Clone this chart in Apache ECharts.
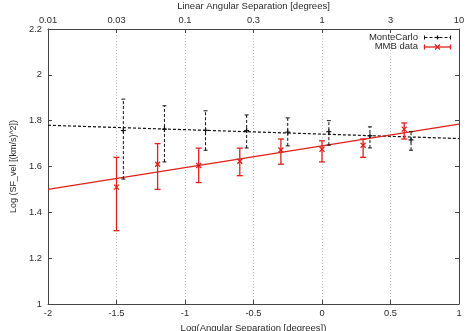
<!DOCTYPE html>
<html><head><meta charset="utf-8">
<script src="https://cdn.jsdelivr.net/npm/echarts@6/dist/echarts.min.js"></script>
<style>html,body{margin:0;padding:0;background:#fff}#c{width:474px;height:331px}</style>
</head><body><div id="c"></div>
<script>
const topTickLabels = ['0.01','0.03','0.1','0.3','1','3','10'];
const mcX    = [-1.45,-1.15,-0.85,-0.55,-0.25,0.05,0.35,0.65];
const mcY    = [1.757,1.763,1.758,1.757,1.750,1.752,1.734,1.716];
const mcLow  = [1.545,1.620,1.671,1.681,1.690,1.693,1.681,1.671];
const mcHigh = [1.894,1.865,1.843,1.825,1.812,1.800,1.773,1.752];
const mmbX    = [-1.5,-1.2,-0.9,-0.6,-0.3,0.0,0.3,0.6];
const mmbY    = [1.510,1.610,1.604,1.623,1.672,1.675,1.693,1.763];
const mmbLow  = [1.320,1.500,1.530,1.560,1.610,1.620,1.640,1.720];
const mmbHigh = [1.640,1.700,1.680,1.680,1.720,1.712,1.720,1.790];
const mcFit  = [[-2,1.780],[1,1.722]];
const mmbFit = [[-2,1.500],[1,1.785]];

const RED = '#e0201b', BLACK = '#111';
const FONT = 'Liberation Sans, Arial, sans-serif';
const txt = {color:'#2a2a2a', fontSize:9.3, fontFamily:FONT};

function errItem(color, dashed, capW, marker){
  return function(params, api){
    const p = api.coord([api.value(0), api.value(1)]);
    const lo = api.coord([api.value(0), api.value(2)]);
    const hi = api.coord([api.value(0), api.value(3)]);
    const st = {stroke:color, lineWidth: dashed?1:1.3, lineDash: dashed?[3,2]:null};
    const cs = {stroke:color, lineWidth: dashed?1:1.3};
    const ch = [
      {type:'line', shape:{x1:p[0],y1:lo[1],x2:p[0],y2:hi[1]}, style:st},
      {type:'line', shape:{x1:p[0]-capW,y1:lo[1],x2:p[0]+capW,y2:lo[1]}, style:cs},
      {type:'line', shape:{x1:p[0]-capW,y1:hi[1],x2:p[0]+capW,y2:hi[1]}, style:cs}
    ];
    const m = 2.5;
    if(marker==='x'){
      ch.push({type:'line', shape:{x1:p[0]-m,y1:p[1]-m,x2:p[0]+m,y2:p[1]+m}, style:{stroke:color,lineWidth:1.3}});
      ch.push({type:'line', shape:{x1:p[0]-m,y1:p[1]+m,x2:p[0]+m,y2:p[1]-m}, style:{stroke:color,lineWidth:1.3}});
    } else {
      ch.push({type:'line', shape:{x1:p[0]-m,y1:p[1],x2:p[0]+m,y2:p[1]}, style:{stroke:color,lineWidth:1.2}});
      ch.push({type:'line', shape:{x1:p[0],y1:p[1]-m,x2:p[0],y2:p[1]+m}, style:{stroke:color,lineWidth:1.2}});
    }
    return {type:'group', children:ch};
  };
}

const mcData = mcX.map((x,i)=>[x,mcY[i],mcLow[i],mcHigh[i]]);
const mmbData = mmbX.map((x,i)=>[x,mmbY[i],mmbLow[i],mmbHigh[i]]);

const axisLine = {show:true, onZero:false, lineStyle:{color:'#444', width:1}};
const tick = {inside:true, length:4, lineStyle:{color:'#444'}};
const option = {
  animation:false,
  backgroundColor:'#fff',
  grid:{left:48, right:15, top:29, bottom:27, containLabel:false, outerBoundsMode:'none'},
  xAxis:[
    {type:'value', position:'bottom', min:-2, max:1, interval:0.5,
     name:'Log(Angular Separation [degrees])', nameLocation:'middle', nameGap:18,
     nameTextStyle:{...txt, fontSize:9.5},
     axisLine:axisLine, axisTick:tick,
     axisLabel:{...txt, margin:5, formatter:v=>String(+v.toFixed(1))},
     splitLine:{show:true, lineStyle:{color:'#bbb', type:[1,2], width:1}}},
    {type:'value', position:'top', min:-2, max:1, interval:0.5,
     name:'Linear Angular Separation [degrees]', nameLocation:'middle', nameGap:16,
     nameTextStyle:{...txt, fontSize:9.5},
     axisLine:axisLine, axisTick:tick,
     axisLabel:{...txt, margin:4, formatter:v=>topTickLabels[Math.round((v+2)/0.5)]},
     splitLine:{show:false}}
  ],
  yAxis:[
    {type:'value', min:1, max:2.2, interval:0.2,
     name:'Log (SF_vel [(km/s)^2])', nameLocation:'middle', nameGap:30, nameRotate:90,
     nameTextStyle:{...txt, fontSize:9},
     axisLine:axisLine, axisTick:tick,
     axisLabel:{...txt, margin:6, formatter:v=>String(+v.toFixed(1))},
     splitLine:{show:false}},
    {type:'value', min:1, max:2.2, interval:0.2, position:'right',
     axisLine:axisLine, axisTick:tick,
     axisLabel:{show:false}, splitLine:{show:false}}
  ],
  graphic:[
    {type:'text', right:56, top:32, style:{text:'MonteCarlo', fill:'#2a2a2a', font:'9.5px '+FONT}},
    {type:'group', left:422, top:33, children:[
      {type:'line', shape:{x1:0,y1:4,x2:26,y2:4}, style:{stroke:BLACK,lineWidth:1,lineDash:[3,2]}},
      {type:'line', shape:{x1:0,y1:2,x2:0,y2:6}, style:{stroke:BLACK,lineWidth:1}},
      {type:'line', shape:{x1:26,y1:2,x2:26,y2:6}, style:{stroke:BLACK,lineWidth:1}},
      {type:'line', shape:{x1:11,y1:4,x2:15,y2:4}, style:{stroke:BLACK,lineWidth:1.2}},
      {type:'line', shape:{x1:13,y1:2,x2:13,y2:6}, style:{stroke:BLACK,lineWidth:1.2}}
    ]},
    {type:'text', right:56, top:41, style:{text:'MMB data', fill:'#2a2a2a', font:'9.5px '+FONT}},
    {type:'group', left:422, top:42, children:[
      {type:'line', shape:{x1:0,y1:4,x2:26,y2:4}, style:{stroke:RED,lineWidth:1.3}},
      {type:'line', shape:{x1:0,y1:1.5,x2:0,y2:6.5}, style:{stroke:RED,lineWidth:1.3}},
      {type:'line', shape:{x1:26,y1:1.5,x2:26,y2:6.5}, style:{stroke:RED,lineWidth:1.3}},
      {type:'line', shape:{x1:10.5,y1:1.5,x2:15.5,y2:6.5}, style:{stroke:RED,lineWidth:1.3}},
      {type:'line', shape:{x1:10.5,y1:6.5,x2:15.5,y2:1.5}, style:{stroke:RED,lineWidth:1.3}}
    ]}
  ],
  series:[
    {type:'line', name:'MC fit', data:mcFit, symbol:'none', xAxisIndex:0, yAxisIndex:0,
     lineStyle:{color:BLACK, width:1.2, type:[3,2]}, z:2},
    {type:'line', name:'MMB fit', data:mmbFit, symbol:'none', xAxisIndex:0, yAxisIndex:0,
     lineStyle:{color:RED, width:1.4}, z:2},
    {type:'custom', name:'MonteCarlo', data:mcData, renderItem:errItem(BLACK,true,2,'+'),
     encode:{x:0,y:[1,2,3]}, z:3},
    {type:'custom', name:'MMB data', data:mmbData, renderItem:errItem(RED,false,3,'x'),
     encode:{x:0,y:[1,2,3]}, z:4}
  ]
};
const chart = echarts.init(document.getElementById('c'), null, {renderer:'canvas'});
chart.setOption(option);
</script></body></html>
